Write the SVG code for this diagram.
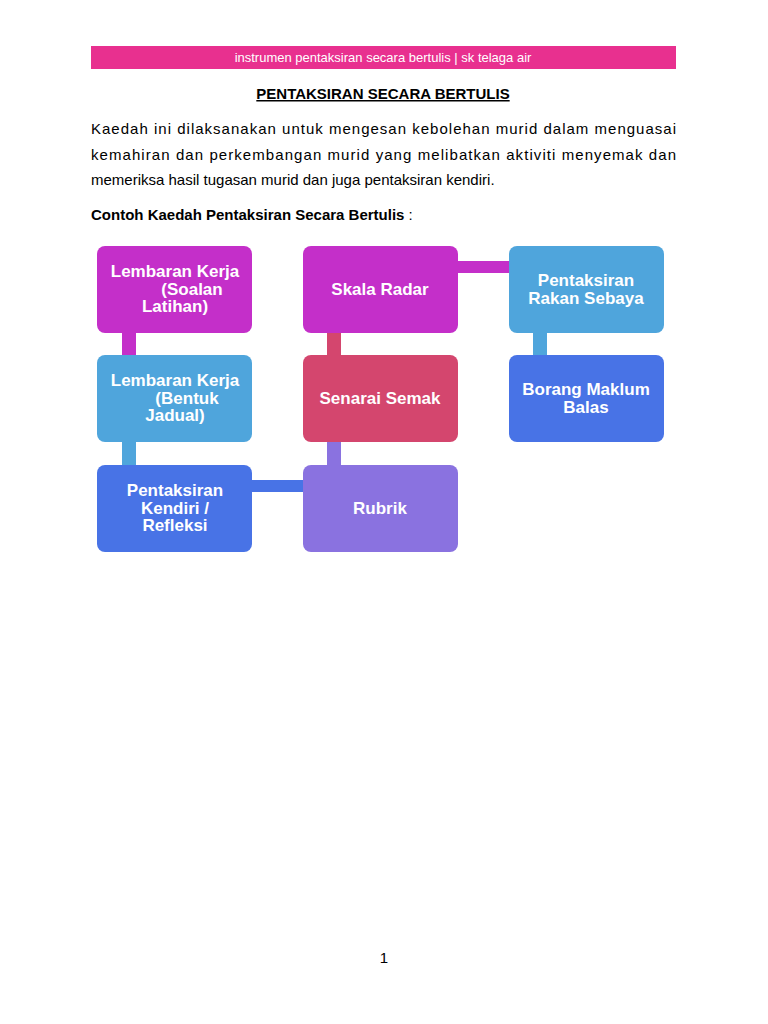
<svg xmlns="http://www.w3.org/2000/svg" width="768" height="1024" viewBox="0 0 768 1024">
<style>
.t{font-family:"Liberation Sans",Arial,sans-serif;font-size:15px;fill:#000}
.n{font-family:"Liberation Sans",Arial,sans-serif;font-size:17px;font-weight:bold;fill:#fff;text-anchor:middle}
</style>
<rect width="768" height="1024" fill="#fff"/>
<rect x="91" y="46" width="585" height="23" fill="#e8308f"/>
<text x="383" y="62" text-anchor="middle" style="font-family:'Liberation Sans',Arial,sans-serif;font-size:13px;fill:#fff">instrumen pentaksiran secara bertulis | sk telaga air</text>
<text x="383" y="99" text-anchor="middle" class="t" font-weight="bold" text-decoration="underline">PENTAKSIRAN SECARA BERTULIS</text>
<text x="91" y="134" class="t" textLength="585" lengthAdjust="spacing">Kaedah ini dilaksanakan untuk mengesan kebolehan murid dalam menguasai</text>
<text x="91" y="160" class="t" textLength="585" lengthAdjust="spacing">kemahiran dan perkembangan murid yang melibatkan aktiviti menyemak dan</text>
<text x="91" y="185" class="t">memeriksa hasil tugasan murid dan juga pentaksiran kendiri.</text>
<text x="91" y="220" class="t"><tspan font-weight="bold">Contoh Kaedah Pentaksiran Secara Bertulis</tspan> :</text>
<g id="connectors">
<rect x="122" y="330" width="14" height="28" fill="#c42fc9"/>
<rect x="122" y="439" width="14" height="29" fill="#4fa5dc"/>
<rect x="327" y="330" width="14" height="28" fill="#d4466e"/>
<rect x="327" y="439" width="14" height="29" fill="#8a72e0"/>
<rect x="533" y="330" width="14" height="28" fill="#4fa5dc"/>
<rect x="455" y="261" width="57" height="12" fill="#c42fc9"/>
<rect x="249" y="480" width="57" height="12" fill="#4873e6"/>
</g>
<g id="n1"><rect x="97" y="246" width="155" height="87" rx="8" fill="#c42fc9"/><text class="n" x="175" y="277">Lembaran Kerja</text><text class="n" x="192" y="295">(Soalan</text><text class="n" x="175" y="312">Latihan)</text></g>
<g id="n2"><rect x="303" y="246" width="155" height="87" rx="8" fill="#c42fc9"/><text class="n" x="380" y="295">Skala Radar</text></g>
<g id="n3"><rect x="509" y="246" width="155" height="87" rx="8" fill="#4fa5dc"/><text class="n" x="586" y="286">Pentaksiran</text><text class="n" x="586" y="304">Rakan Sebaya</text></g>
<g id="n4"><rect x="97" y="355" width="155" height="87" rx="8" fill="#4fa5dc"/><text class="n" x="175" y="386">Lembaran Kerja</text><text class="n" x="187" y="404">(Bentuk</text><text class="n" x="175" y="421">Jadual)</text></g>
<g id="n5"><rect x="303" y="355" width="155" height="87" rx="8" fill="#d4466e"/><text class="n" x="380" y="404">Senarai Semak</text></g>
<g id="n6"><rect x="509" y="355" width="155" height="87" rx="8" fill="#4873e6"/><text class="n" x="586" y="395">Borang Maklum</text><text class="n" x="586" y="413">Balas</text></g>
<g id="n7"><rect x="97" y="465" width="155" height="87" rx="8" fill="#4873e6"/><text class="n" x="175" y="496">Pentaksiran</text><text class="n" x="175" y="514">Kendiri /</text><text class="n" x="175" y="531">Refleksi</text></g>
<g id="n8"><rect x="303" y="465" width="155" height="87" rx="8" fill="#8a72e0"/><text class="n" x="380" y="514">Rubrik</text></g>
<text x="384" y="963" text-anchor="middle" class="t" font-size="14">1</text>
</svg>
